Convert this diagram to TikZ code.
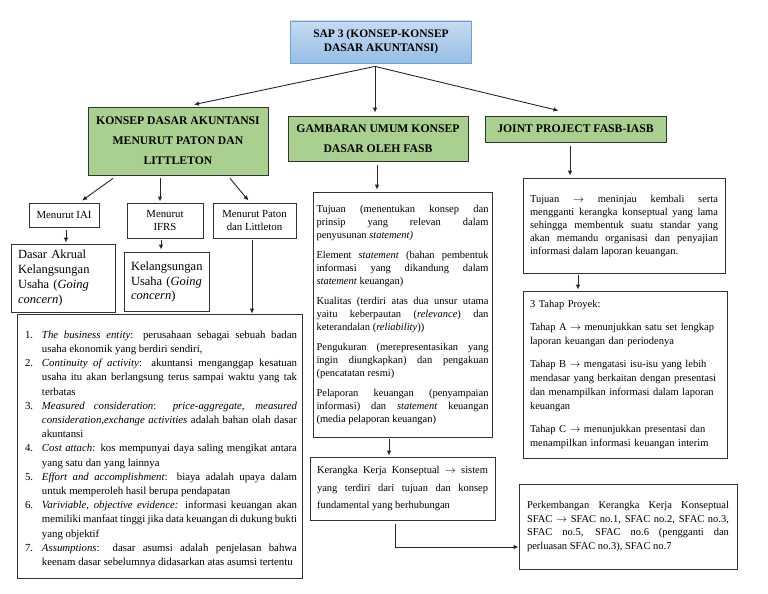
\documentclass[tikz,border=0pt]{standalone}
\usepackage{fontspec}
\setmainfont{Liberation Serif}
\usepackage{tikz}
\usetikzlibrary{arrows.meta}
\definecolor{boxgreen}{RGB}{169,208,142}
\definecolor{sapblue}{RGB}{150,190,230}
\definecolor{sapline}{RGB}{110,160,215}
\hyphenpenalty=10000
\exhyphenpenalty=10000
\sloppy
% one numbered line of the long list
\newcommand\litem[2]{\par\noindent\hangindent=20pt\hangafter=1\makebox[20pt][l]{\hspace{3pt}#1.}#2\par}

\begin{document}
\begin{tikzpicture}[x=1pt,y=-1pt,
% arrow heads for all connectors
-{Latex[length=5pt,width=4.5pt]},line width=0.9pt,draw=black!85,
box/.style={draw=black!80,line width=0.8pt,inner xsep=7pt,inner ysep=3pt,
  align=justify,font=\fontsize{10.5}{13}\selectfont},
greenbox/.style={box,fill=boxgreen,inner xsep=2pt,align=center,
  font=\bfseries\fontsize{11.7}{20}\selectfont},
smallbox/.style={box,inner xsep=2pt,align=center,font=\fontsize{10.8}{13}\selectfont}]

\useasboundingbox (0,0) rectangle (768,594);

% top
\node[greenbox,top color=sapblue!55!white,bottom color=sapblue,draw=sapline,
  font=\bfseries\fontsize{11.5}{14}\selectfont,
  minimum width=181pt,minimum height=42pt] (sap) at (381,42)
  {SAP 3 (KONSEP-KONSEP\\DASAR AKUNTANSI)};
\coordinate (sapfoot) at ([xshift=-6pt,yshift=-3pt]sap.south);

\node[greenbox,minimum width=180pt,minimum height=68pt] (kdp) at (178,141)
  {KONSEP DASAR AKUNTANSI\\MENURUT PATON DAN\\LITTLETON};
\node[greenbox,minimum width=180pt,minimum height=45pt] (fasb) at (378,138.5)
  {GAMBARAN UMUM KONSEP\\DASAR OLEH FASB};
\node[greenbox,minimum width=181pt,minimum height=26pt] (jp) at (575.5,129)
  {JOINT PROJECT FASB-IASB};

% left branch
\node[smallbox,minimum width=70pt,minimum height=24pt] (iai) at (64,215) {Menurut IAI};
\node[smallbox,minimum width=76pt,minimum height=35pt] (ifrs) at (165,220.5) {Menurut\\IFRS};
\node[smallbox,minimum width=83pt,minimum height=35pt] (paton) at (254.5,220.5)
  {Menurut Paton\\dan Littleton};

\node[box,align=left,font=\fontsize{12.5}{15}\selectfont,text width=90pt,
  minimum width=104pt,minimum height=68pt] (akrual) at (63,278)
  {Dasar Akrual\\Kelangsungan\\Usaha (\textit{Going}\\\textit{concern})};
\node[box,align=left,font=\fontsize{12.5}{14.5}\selectfont,text width=71pt,
  minimum width=85pt,minimum height=59pt] (going) at (166.5,282)
  {Kelangsungan\\Usaha (\textit{Going}\\\textit{concern})\par\vspace{3pt}};

\node[box,inner xsep=5pt,font=\fontsize{10.8}{14.2}\selectfont,text width=275pt,
  minimum width=285pt,minimum height=264pt] (asumsi) at (159.5,446)
  {\litem{1}{\textit{The business entity}: perusahaan sebagai sebuah badan\linebreak usaha ekonomik yang berdiri sendiri,}
   \litem{2}{\textit{Continuity of activity}: akuntansi menganggap kesatuan\linebreak usaha itu akan berlangsung terus sampai waktu yang tak\linebreak terbatas}
   \litem{3}{\textit{Measured consideration}: \textit{price-aggregate}, \textit{measured\linebreak consideration,exchange activities} adalah bahan olah dasar\linebreak akuntansi}
   \litem{4}{\textit{Cost attach}: kos mempunyai daya saling mengikat antara\linebreak yang satu dan yang lainnya}
   \litem{5}{\textit{Effort and accomplishment}: biaya adalah upaya dalam\linebreak untuk memperoleh hasil berupa pendapatan}
   \litem{6}{\textit{Variviable, objective evidence:} informasi keuangan akan\linebreak memiliki manfaat tinggi jika data keuangan di dukung bukti\linebreak yang objektif}
   \litem{7}{\textit{Assumptions}: dasar asumsi adalah penjelasan bahwa\linebreak keenam dasar sebelumnya didasarkan atas asumsi tertentu}\vspace{4pt}};

% middle branch
\node[box,inner xsep=3.5pt,font=\fontsize{10.5}{13}\selectfont,text width=172pt,
  minimum width=179pt,minimum height=245pt] (unsur) at (402.5,314.5)
  {Tujuan (menentukan konsep dan\linebreak prinsip yang relevan dalam\linebreak penyusunan \textit{statement)}\par\vspace{7pt}
   Element \textit{statement} (bahan pembentuk\linebreak informasi yang dikandung dalam\linebreak \textit{statement} keuangan)\par\vspace{7pt}
   Kualitas (terdiri atas dua unsur utama\linebreak yaitu keberpautan (\textit{relevance}) dan\linebreak keterandalan (\textit{reliability}))\par\vspace{7pt}
   Pengukuran (merepresentasikan yang\linebreak ingin diungkapkan) dan pengakuan\linebreak (pencatatan resmi)\par\vspace{7pt}
   Pelaporan keuangan (penyampaian\linebreak informasi) dan \textit{statement} keuangan\linebreak (media pelaporan keuangan)};

\node[box,inner xsep=7pt,font=\fontsize{10.5}{17.5}\selectfont,text width=171pt,
  minimum width=185pt,minimum height=63pt] (kkk) at (402.5,488.5)
  {Kerangka Kerja Konseptual $\rightarrow$ sistem\linebreak yang terdiri dari tujuan dan konsep\linebreak fundamental yang berhubungan};

\node[box,inner xsep=8pt,font=\fontsize{10.5}{13.5}\selectfont,text width=202pt,
  minimum width=218pt,minimum height=85pt] (sfac) at (628,526.5)
  {Perkembangan Kerangka Kerja Konseptual\linebreak SFAC $\rightarrow$ SFAC no.1, SFAC no.2, SFAC no.3,\linebreak SFAC no.5, SFAC no.6 (pengganti dan\linebreak perluasan SFAC no.3), SFAC no.7\par\vspace{8pt}};

% right branch
\node[box,text width=188pt,minimum width=202pt,minimum height=95pt] (tujuan) at (624,225.5)
  {Tujuan $\rightarrow$ meninjau kembali serta\linebreak mengganti kerangka konseptual yang lama\linebreak sehingga membentuk suatu standar yang\linebreak akan memandu organisasi dan penyajian\linebreak informasi dalam laporan keuangan.\par\vspace{8pt}};

\node[box,align=left,font=\fontsize{10.5}{14}\selectfont,text width=190pt,
  minimum width=204pt,minimum height=167pt] (tahap) at (625,374.5)
  {3 Tahap Proyek:\par\vspace{9pt}
   Tahap A $\rightarrow$ menunjukkan satu set lengkap\\laporan keuangan dan periodenya\par\vspace{9pt}
   Tahap B $\rightarrow$ mengatasi isu-isu yang lebih\\mendasar yang berkaitan dengan presentasi\\dan menampilkan informasi dalam laporan\\keuangan\par\vspace{9pt}
   Tahap C $\rightarrow$ menunjukkan presentasi dan\\menampilkan informasi keuangan interim\par\vspace{3pt}};

% connectors
\draw (sapfoot) -- ([xshift=16pt,yshift=2pt]kdp.north);
\draw (sapfoot) -- ([xshift=-3pt,yshift=3pt]fasb.north);
\draw (sapfoot) -- ([xshift=-17pt,yshift=5pt]jp.north);

\draw ([xshift=-65pt,yshift=-3pt]kdp.south) -- ([xshift=18pt,yshift=2pt]iai.north);
\draw ([xshift=-18pt,yshift=-3pt]kdp.south) -- ([xshift=-5pt,yshift=1pt]ifrs.north);
\draw ([xshift=52pt,yshift=-3pt]kdp.south) -- ([xshift=-6pt,yshift=2pt]paton.north);

\draw ([xshift=2pt,yshift=-3pt]iai.south) -- ([xshift=3pt,yshift=1pt]akrual.north);
\draw ([xshift=-4pt,yshift=-2pt]ifrs.south) -- ([xshift=-5.5pt,yshift=2.5pt]going.north);
\draw ([xshift=-2.5pt,yshift=-2pt]paton.south) -- ([xshift=92.5pt]asumsi.north);

\draw ([xshift=-1pt,yshift=-4pt]fasb.south) -- ([xshift=-25.5pt,yshift=2pt]unsur.north);
\draw ([xshift=-13.5pt,yshift=-2pt]unsur.south) -- ([xshift=-13.5pt,yshift=1pt]kkk.north);
\draw ([xshift=-7.5pt,yshift=-4pt]kkk.south) |- ([yshift=-20.5pt]sfac.west);

\draw ([xshift=-5.5pt,yshift=-4pt]jp.south) -- ([xshift=-54pt,yshift=2pt]tujuan.north);
\draw ([xshift=-46pt,yshift=-2pt]tujuan.south) -- ([xshift=-47pt,yshift=1pt]tahap.north);
\end{tikzpicture}
\end{document}
